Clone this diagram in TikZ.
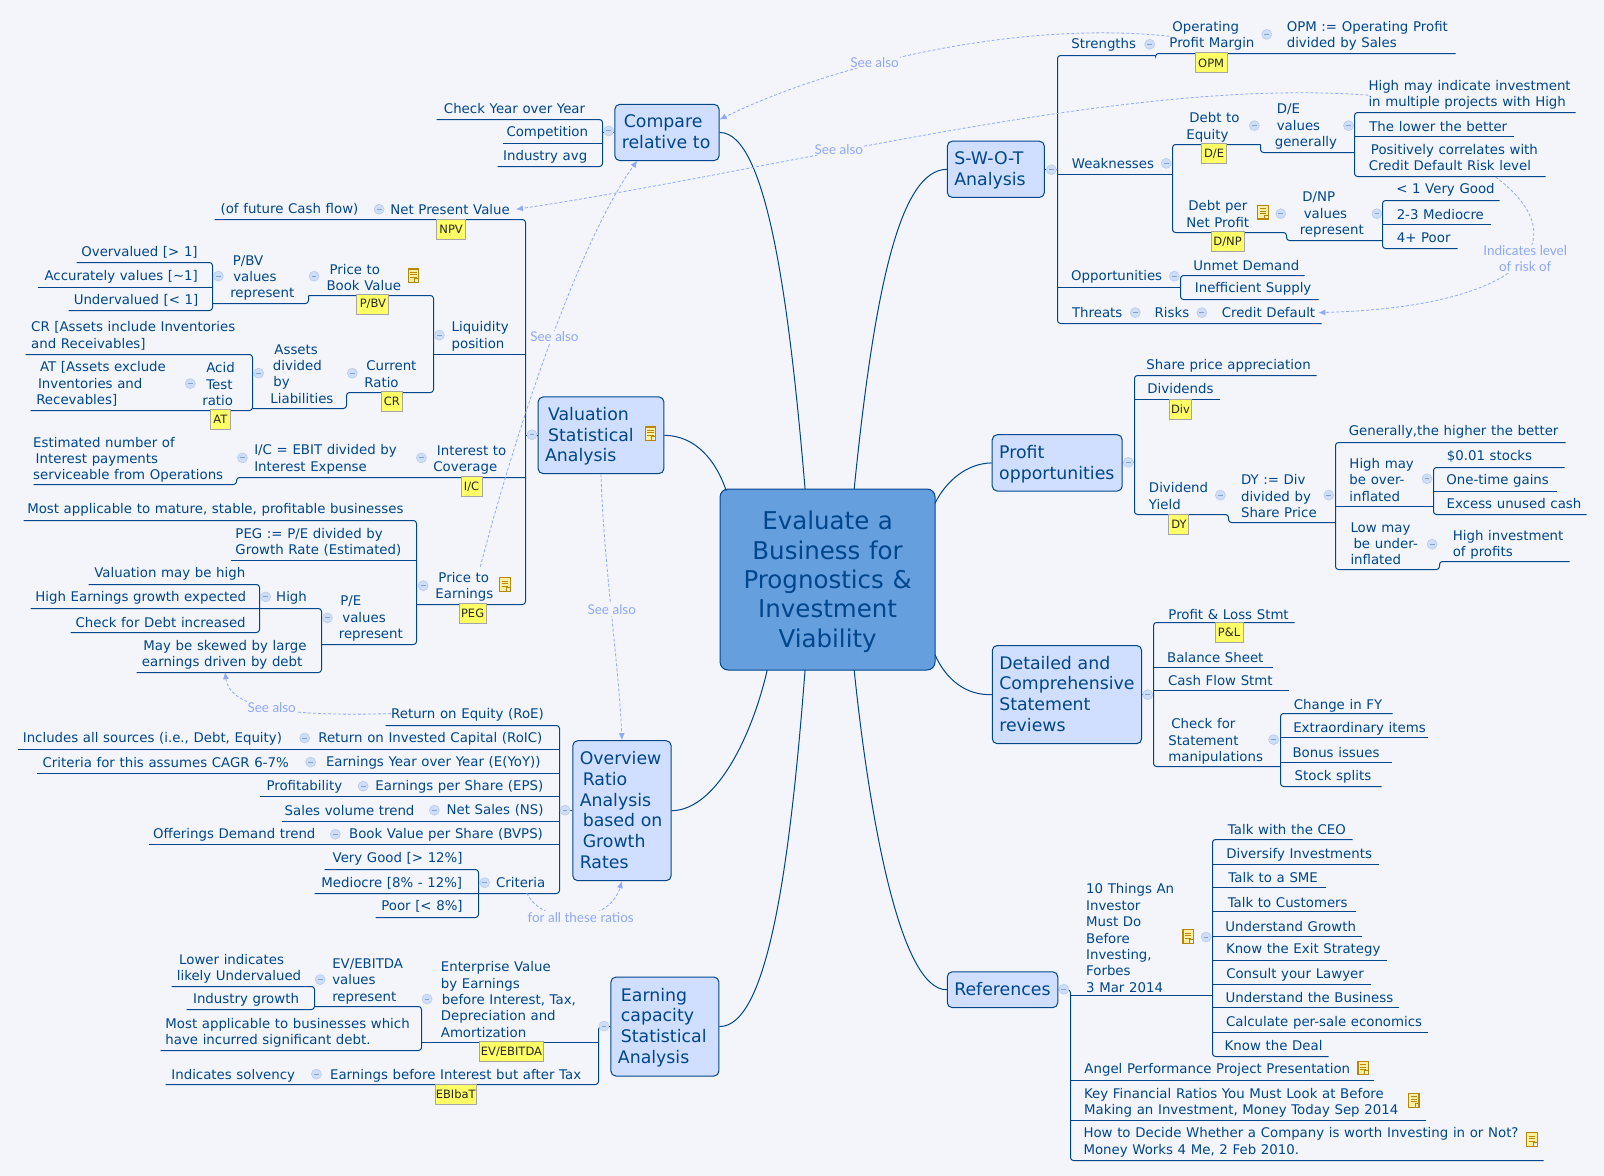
\documentclass[tikz,border=0pt]{standalone}
\usepackage{fontspec}
\setmainfont[WordSpace=1.1]{DejaVu Sans}
\newfontfamily\relfont{Lato}
\usetikzlibrary{arrows.meta}
\definecolor{pagecol}{HTML}{F3F5FB}
\definecolor{inkcol}{HTML}{00468C}
\definecolor{boxcol}{HTML}{D0DFFF}
\definecolor{maincol}{HTML}{659FDE}
\definecolor{relcol}{HTML}{8FA8F8}
\definecolor{tagcol}{HTML}{FFFF66}
\definecolor{foldcol}{HTML}{CFDEF6}
\definecolor{foldline}{HTML}{B7CCEE}
\definecolor{notecol}{HTML}{FFEFA0}
\definecolor{noteline}{HTML}{B8860B}
\tikzset{
  branch/.style={draw=inkcol,line width=1pt,rounded corners=3pt},
  stem/.style={draw=inkcol,line width=1pt},
  topic/.style={text=inkcol,inner sep=0pt,font=\fontsize{13.33}{16.4}\selectfont,
    execute at begin node={\rule{0pt}{14.5pt}},execute at end node={\rule[-4pt]{0pt}{4pt}}},
  mtopic/.style={topic,anchor=west,align=left,yshift=-2.5pt},
  bigtopic/.style={draw=inkcol,fill=boxcol,line width=1pt,rounded corners=5pt,text=inkcol,
    inner xsep=7pt,inner ysep=0pt,align=left,font=\fontsize{17.33}{20.8}\selectfont,
    execute at begin node={\rule{0pt}{18.5pt}},execute at end node={\rule[-7pt]{0pt}{7pt}}},
  yellowtag/.style={draw=black!35,fill=tagcol,line width=1pt,text=black!85,inner sep=0pt,
    minimum height=20pt,font=\fontsize{11.5}{13}\selectfont},
  foldmark/.style={circle,draw=foldline,fill=foldcol,line width=.6pt,minimum size=10pt,inner sep=0pt,
    path picture={\draw[line width=.9pt,foldline!70!inkcol] ([xshift=-2.4pt]path picture bounding box.center) -- ([xshift=2.4pt]path picture bounding box.center);}},
  noteicon/.style={rectangle,draw=noteline,fill=notecol,line width=1.2pt,minimum width=10.5pt,minimum height=13.5pt,inner sep=0pt,
    path picture={\foreach \s in {3.5,1,-1.5} \draw[line width=.9pt,noteline] ([xshift=-3.2pt,yshift=\s pt]path picture bounding box.center) -- ([xshift=3.2pt,yshift=\s pt]path picture bounding box.center);
      \fill[pagecol] ([xshift=-4pt]path picture bounding box.south east) -- ([yshift=4pt]path picture bounding box.south east) -- (path picture bounding box.south east) -- cycle;
      \draw[line width=.9pt,noteline] ([xshift=-4pt]path picture bounding box.south east) -- ([xshift=-4pt,yshift=4pt]path picture bounding box.south east) -- ([yshift=4pt]path picture bounding box.south east);}},
  rel/.style={draw=relcol,line width=.8pt,densely dashed,-{Latex[length=7pt,width=6pt]}},
  rellabel/.style={text=relcol,fill=pagecol,inner sep=1pt,align=center,font=\relfont\fontsize{13.5}{16.4}\selectfont},
}
\newcommand{\lineends}[4]{%
  \pgfmathsetmacro{\snapa}{(round(#2*1.02296-0.5)+0.5)/1.02296}%
  \pgfmathsetmacro{\snapb}{(round(#3*1.02296-0.5)+0.5)/1.02296}%
  \pgfmathsetmacro{\snapy}{(round(#4*1.02296-0.5)+0.5)/1.02296}%
  \coordinate (#1A) at (\snapa,\snapy); \coordinate (#1B) at (\snapb,\snapy);}
\begin{document}
\begin{tikzpicture}[x=1.02296pt,y=-1.02296pt]
  \path[fill=pagecol] (0,0) rectangle (1568,1149.6);

  % boxes
  \node[draw=inkcol,fill=maincol,line width=1pt,rounded corners=8pt,minimum width=215pt,minimum height=181pt,inner sep=0pt] (main) at (809,566.5) {};
  \node[align=center,text=inkcol,inner sep=0pt,yshift=-2.25pt,font=\fontsize{24.5}{29.4}\selectfont] (mainText) at (809,566.5) {Evaluate a\\Business for\\Prognostics \&\\Investment\\Viability};
  \node[bigtopic,text width=90.3pt,minimum height=56.3pt] (compare) at (652,129.5) {\hspace*{2pt}Compare\\relative to};
  \node[bigtopic,text width=83pt,minimum height=56.3pt] (swot) at (973.5,165.5) {S-W-O-T\\Analysis};
  \node[bigtopic,text width=111.8pt,minimum height=76.7pt] (valuation) at (587.5,425.5) {\hspace*{3pt}Valuation\\\hspace*{3pt}Statistical\\Analysis};
  \node[bigtopic,text width=116pt,minimum height=56.3pt] (profit) at (1033.5,452.5) {Profit\\opportunities};
  \node[bigtopic,text width=135.4pt,minimum height=98.2pt] (detailed) at (1043,679) {Detailed and\\Comprehensive\\Statement\\reviews};
  \node[bigtopic,text width=84.4pt,minimum height=140pt] (overview) at (608,792.5) {Overview\\\hspace*{3pt}Ratio\\Analysis\\\hspace*{3pt}based on\\\hspace*{3pt}Growth\\Rates};
  \node[bigtopic,text width=94pt,minimum height=99pt] (earning) at (650,1003.5) {\hspace*{3pt}Earning\\\hspace*{3pt}capacity\\\hspace*{3pt}Statistical\\Analysis};
  \node[bigtopic,text width=96.5pt,minimum height=35.8pt] (refs) at (980,967.5) {References};

  % curves to the centre
  \coordinate (mainTL) at (787,478);
  \coordinate (mainTR) at (835,478);
  \coordinate (mainBL) at (787,655);
  \coordinate (mainBR) at (835,655);
  \coordinate (mainVal) at (710,480);
  \coordinate (mainPro) at (914,492);
  \coordinate (mainDet) at (914,640);
  \coordinate (mainOve) at (750,655);
  \draw[stem] (compare.east) .. controls (750,129) and (772,300) .. (mainTL);
  \draw[stem] (swot.west) .. controls (880,166) and (855,280) .. (mainTR);
  \draw[stem] (valuation.east) .. controls (680,426) and (700,450) .. (mainVal);
  \draw[stem] (profit.west) .. controls (945,453) and (925,470) .. (mainPro);
  \draw[stem] (detailed.west) .. controls (945,680) and (925,665) .. (mainDet);
  \draw[stem] (overview.east) .. controls (700,792) and (735,720) .. (mainOve);
  \draw[stem] (earning.east) .. controls (750,1004) and (772,850) .. (mainBL);
  \draw[stem] (refs.west) .. controls (880,968) and (850,800) .. (mainBR);

  % S-W-O-T
  \lineends{str}{1034}{1130}{54}
  \lineends{opm}{1130}{1423}{52}
  \lineends{weak}{1034}{1146}{170.5}
  \lineends{dte}{1146}{1232.5}{141}
  \lineends{deval}{1232.5}{1324.4}{149}
  \lineends{high}{1324.4}{1540}{110}
  \lineends{lower}{1324.4}{1480}{133.6}
  \lineends{posi}{1324.4}{1511}{172.5}
  \lineends{dnp}{1146}{1258}{227}
  \lineends{dnpval}{1258}{1351.7}{235}
  \lineends{good}{1351.7}{1466}{195.6}
  \lineends{medi}{1351.7}{1456.6}{219.3}
  \lineends{poor}{1351.7}{1424.4}{242.7}
  \lineends{opp}{1034}{1154}{280.6}
  \lineends{unmet}{1154}{1275}{269.5}
  \lineends{ineff}{1154}{1288.5}{292.6}
  \lineends{thr}{1034}{1291.6}{316}
  \draw[branch] (strB) -- (strA) -- (thrA) -- (thrB);
  \draw[branch] (swot.east) -- (strA |- swot.east);
  \draw[branch] (strB) -- (opmA) -- (opmB);
  \draw[branch] (weakA) -- (weakB);
  \draw[branch] (dteB) -- (dteA) -- (dnpA) -- (dnpB) -- (dnpvalA) -- (dnpvalB);
  \draw[branch] (dteB) -- (devalA) -- (devalB);
  \draw[branch] (highB) -- (highA) -- (posiA) -- (posiB);
  \draw[branch] (lowerA) -- (lowerB);
  \draw[branch] (goodB) -- (goodA) -- (poorA) -- (poorB);
  \draw[branch] (mediA) -- (mediB);
  \draw[branch] (oppA) -- (oppB);
  \draw[branch] (unmetB) -- (unmetA) -- (ineffA) -- (ineffB);

  \node[topic] (strengths) at (1079,42.5) {Strengths};
  \node[mtopic] (opMargin) at (1143,33) {\hspace*{3pt}Operating\\Profit Margin};
  \node[mtopic] (opmDef) at (1257.7,33) {OPM := Operating Profit\\divided by Sales};
  \node[topic] (weakn) at (1088,160) {Weaknesses};
  \node[mtopic] (debtEq) at (1159.5,122.5) {\hspace*{3pt}Debt to\\Equity};
  \node[mtopic] (deVals) at (1246,122) {\hspace*{2pt}D/E\\\hspace*{2pt}values\\generally};
  \node[mtopic] (highInv) at (1337.6,90.6) {High may indicate investment\\in multiple projects with High};
  \node[topic] (lowerBetter) at (1406,123) {The lower the better};
  \node[mtopic] (posCorr) at (1338,153.7) {\hspace*{2pt}Positively correlates with\\Credit Default Risk level};
  \node[mtopic] (debtNp) at (1159.5,208.5) {\hspace*{2pt}Debt per\\Net Profit};
  \node[mtopic] (dnpVals) at (1270.4,208) {\hspace*{2.5pt}D/NP\\\hspace*{4pt}values\\represent};
  \node[topic] (veryGood) at (1413,184.4) {< 1 Very Good};
  \node[topic] (mediocre) at (1408,209) {2-3 Mediocre};
  \node[topic] (poorPts) at (1391.7,232) {4+ Poor};
  \node[topic] (opport) at (1091.6,269.5) {Opportunities};
  \node[topic] (unmetDem) at (1218.4,259) {Unmet Demand};
  \node[topic] (ineffSup) at (1225,281) {Inefficient Supply};
  \node[topic] (threats) at (1072.6,305.6) {Threats};
  \node[topic] (risks) at (1145.7,305.6) {Risks};
  \node[topic] (credit) at (1240,305.6) {Credit Default};
  \node[yellowtag,minimum width=32pt] (tagOpm) at (1184,61.5) {OPM};
  \node[yellowtag,minimum width=25pt] (tagDe) at (1186.8,150) {D/E};
  \node[yellowtag,minimum width=33pt] (tagDnp) at (1200,236.5) {D/NP};
  \node[noteicon] (noteDnp) at (1234.5,207.5) {};
  \node[foldmark] (fSwot) at (1027.8,165.9) {};
  \node[foldmark] (fStr) at (1123.9,43.3) {};
  \node[foldmark] (fOpm) at (1238.3,33.6) {};
  \node[foldmark] (fWeak) at (1140,159.7) {};
  \node[foldmark] (fDe) at (1226.2,122.8) {};
  \node[foldmark] (fDeV) at (1318.2,122.8) {};
  \node[foldmark] (fDnp) at (1252,208.9) {};
  \node[foldmark] (fDnpV) at (1346,208.9) {};
  \node[foldmark] (fOpp) at (1148,270) {};
  \node[foldmark] (fThr) at (1109.8,305.6) {};
  \node[foldmark] (fRisk) at (1174.9,305.6) {};

  % Profit opportunities
  \lineends{share}{1109}{1287}{367}
  \lineends{divi}{1109}{1192}{391}
  \lineends{yield}{1109}{1201}{503}
  \lineends{dyDef}{1201}{1306}{511}
  \lineends{gen}{1306}{1530}{433}
  \lineends{hiMay}{1306}{1401}{495}
  \lineends{cents}{1401}{1529}{457}
  \lineends{onet}{1401}{1522}{480}
  \lineends{exc}{1401}{1551}{503}
  \lineends{loMay}{1306}{1407}{557}
  \lineends{hiInv}{1407}{1534}{549}
  \draw[branch] (shareB) -- (shareA) -- (yieldA) -- (yieldB) -- (dyDefA) -- (dyDefB);
  \draw[branch] (profit.east) -- (shareA |- profit.east);
  \draw[branch] (diviA) -- (diviB);
  \draw[branch] (genB) -- (genA) -- (loMayA) -- (loMayB) -- (hiInvA) -- (hiInvB);
  \draw[branch] (hiMayA) -- (hiMayB);
  \draw[branch] (centsB) -- (centsA) -- (excA) -- (excB);
  \draw[branch] (onetA) -- (onetB);
  \node[topic] (sharePrice) at (1201,356) {Share price appreciation};
  \node[topic] (dividends) at (1154,380) {Dividends};
  \node[mtopic] (divYield) at (1123,484.5) {Dividend\\Yield};
  \node[mtopic] (dyText) at (1213,484.5) {DY := Div\\divided by\\Share Price};
  \node[topic] (generally) at (1421,421) {Generally,the higher the better};
  \node[mtopic] (highMay) at (1319,468.5) {High may\\be over-\\inflated};
  \node[topic] (stocks) at (1456,445) {\$0.01 stocks};
  \node[topic] (oneTime) at (1464,468) {One-time gains};
  \node[topic] (excess) at (1480,492) {Excess unused cash};
  \node[mtopic] (lowMay) at (1320,531) {Low may\\\hspace*{3pt}be under-\\inflated};
  \node[mtopic] (highInvest) at (1420,531) {High investment\\of profits};
  \node[yellowtag,minimum width=22pt] (tagDiv) at (1154,400) {Div};
  \node[yellowtag,minimum width=20pt] (tagDy) at (1152.5,512.5) {DY};
  \node[foldmark] (fPro) at (1103,452) {};
  \node[foldmark] (fYield) at (1193,484) {};
  \node[foldmark] (fDy) at (1299,484) {};
  \node[foldmark] (fHigh) at (1395,468) {};
  \node[foldmark] (fLow) at (1400,532) {};

  % Statement reviews
  \lineends{pnl}{1128}{1265}{609}
  \lineends{bal}{1128}{1244}{653}
  \lineends{cash}{1128}{1260}{675}
  \lineends{chk}{1128}{1252}{749}
  \lineends{chg}{1252}{1361}{697}
  \lineends{ext}{1252}{1395}{721}
  \lineends{bon}{1252}{1360}{745}
  \lineends{spl}{1252}{1350}{769}
  \draw[branch] (pnlB) -- (pnlA) -- (chkA) -- (chkB);
  \draw[branch] (detailed.east) -- (pnlA |- detailed.east);
  \draw[branch] (balA) -- (balB);
  \draw[branch] (cashA) -- (cashB);
  \draw[branch] (chgB) -- (chgA) -- (splA) -- (splB);
  \draw[branch] (extA) -- (extB);
  \draw[branch] (bonA) -- (bonB);
  \node[topic] (profitLoss) at (1201,600) {Profit \& Loss Stmt};
  \node[topic] (balance) at (1188,642) {Balance Sheet};
  \node[topic] (cashFlow) at (1193,665) {Cash Flow Stmt};
  \node[mtopic] (checkFor) at (1142,723) {\hspace*{3pt}Check for\\Statement\\manipulations};
  \node[topic] (changeFy) at (1308,688) {Change in FY};
  \node[topic] (extra) at (1329,711) {Extraordinary items};
  \node[topic] (bonus) at (1306,735) {Bonus issues};
  \node[topic] (splits) at (1303,758) {Stock splits};
  \node[yellowtag,minimum width=28pt] (tagPl) at (1201.5,618.5) {P\&L};
  \node[foldmark] (fDet) at (1122,679) {};
  \node[foldmark] (fChk) at (1245,723) {};

  % References
  \lineends{things}{1046.7}{1185}{973.6}
  \lineends{ceo}{1185}{1322}{821}
  \lineends{divers}{1185}{1348}{844.7}
  \lineends{sme}{1185}{1296}{868}
  \lineends{cust}{1185}{1325}{891.5}
  \lineends{growth}{1185}{1331}{915}
  \lineends{exit}{1185}{1355.5}{938.5}
  \lineends{lawyer}{1185}{1340}{962}
  \lineends{busin}{1185}{1367}{985}
  \lineends{perS}{1185}{1395.6}{1009}
  \lineends{deal}{1185}{1299}{1032.6}
  \lineends{angel}{1046.7}{1343}{1055.8}
  \lineends{ratios}{1046.7}{1393.6}{1095}
  \lineends{how}{1046.7}{1509}{1134}
  \draw[branch] (refs.east) -- (thingsA |- refs.east) -- (howA) -- (howB);
  \draw[branch] (thingsA) -- (thingsB);
  \draw[branch] (angelA) -- (angelB);
  \draw[branch] (ratiosA) -- (ratiosB);
  \draw[branch] (ceoB) -- (ceoA) -- (dealA) -- (dealB);
  \foreach \b in {divers,sme,cust,growth,exit,lawyer,busin,perS} \draw[branch] (\b A) -- (\b B);
  \node[mtopic] (tenThings) at (1061.6,916.5) {10 Things An\\Investor\\Must Do\\Before\\Investing,\\Forbes\\3 Mar 2014};
  \node[topic] (talkCeo) at (1258,811) {Talk with the CEO};
  \node[topic] (diversify) at (1270,833.6) {Diversify Investments};
  \node[topic] (talkSme) at (1244.6,858) {Talk to a SME};
  \node[topic] (talkCust) at (1258.8,881.5) {Talk to Customers};
  \node[topic] (underGrowth) at (1261.7,905) {Understand Growth};
  \node[topic] (exitStrat) at (1274,927) {Know the Exit Strategy};
  \node[topic] (consult) at (1266,951) {Consult your Lawyer};
  \node[topic] (underBus) at (1280,975) {Understand the Business};
  \node[topic] (perSale) at (1294.4,998) {Calculate per-sale economics};
  \node[topic] (knowDeal) at (1245,1022) {Know the Deal};
  \node[topic] (angelPres) at (1190,1044) {Angel Performance Project Presentation};
  \node[mtopic] (keyFin) at (1059.6,1076) {Key Financial Ratios You Must Look at Before\\Making an Investment, Money Today Sep 2014};
  \node[mtopic] (howTo) at (1059,1115) {How to Decide Whether a Company is worth Investing in or Not?\\Money Works 4 Me, 2 Feb 2010.};
  \node[noteicon] (noteTen) at (1161.6,915.6) {};
  \node[noteicon] (noteAngel) at (1332.6,1044) {};
  \node[noteicon] (noteKey) at (1382,1075.7) {};
  \node[noteicon] (noteHow) at (1497.7,1114) {};
  \node[foldmark] (fRefs) at (1040,967) {};
  \node[foldmark] (fTen) at (1179,916) {};

  % Compare
  \lineends{check}{589}{427}{116.6}
  \lineends{compt}{589}{491}{140}
  \lineends{indus}{589}{486}{163}
  \draw[branch] (checkB) -- (checkA) -- (indusA) -- (indusB);
  \draw[branch] (compare.west) -- (checkA |- compare.west);
  \draw[branch] (comptA) -- (comptB);
  \node[topic] (checkYear) at (503,106) {Check Year over Year};
  \node[topic] (competition) at (535,128) {Competition};
  \node[topic] (industry) at (533,152) {Industry avg};
  \node[foldmark] (fCmp) at (595,128) {};

  % Valuation
  \lineends{npv}{514}{209.5}{215}
  \lineends{liq}{514}{423.5}{346.6}
  \lineends{pbv}{423.5}{301.6}{289}
  \lineends{pbvals}{301.6}{207.7}{296.3}
  \lineends{over}{207.7}{74.4}{257}
  \lineends{accu}{207.7}{37}{280.6}
  \lineends{under}{207.7}{67.3}{304}
  \lineends{cur}{423.5}{338.6}{383.4}
  \lineends{adl}{338.6}{246.7}{399}
  \lineends{crl}{246.7}{24.6}{346.3}
  \lineends{atl}{246.7}{30.3}{401}
  \lineends{cov}{514}{231}{466.4}
  \lineends{est}{231}{33}{473.5}
  \lineends{pe}{514}{407.6}{590.6}
  \lineends{most}{407.6}{22.8}{508.7}
  \lineends{peg}{407.6}{225}{547.7}
  \lineends{pev}{407.6}{314.4}{630}
  \lineends{hig}{314.4}{30.3}{594.6}
  \lineends{skew}{314.4}{133}{657}
  \lineends{valm}{253.5}{87}{571}
  \lineends{chkd}{253.5}{69.4}{618}
  \draw[branch] (npvB) -- (npvA) -- (peA) -- (peB);
  \draw[branch] (valuation.west) -- (npvA |- valuation.west);
  \draw[branch] (liqA) -- (liqB);
  \draw[branch] (covA) -- (covB) -- (estA) -- (estB);
  \draw[branch] (pbvB) -- (pbvA) -- (curA) -- (curB) -- (adlA) -- (adlB);
  \draw[branch] (pbvB) -- (pbvalsA) -- (pbvalsB);
  \draw[branch] (overB) -- (overA) -- (underA) -- (underB);
  \draw[branch] (accuA) -- (accuB);
  \draw[branch] (crlB) -- (crlA) -- (atlA) -- (atlB);
  \draw[branch] (mostB) -- (mostA) -- (pevA) -- (pevB);
  \draw[branch] (pegA) -- (pegB);
  \draw[branch] (higB) -- (higA) -- (skewA) -- (skewB);
  \draw[branch] (valmB) -- (valmA) -- (chkdA) -- (chkdB);
  \node[topic] (futureCash) at (283,204) {(of future Cash flow)};
  \node[topic] (netValue) at (440,204.6) {Net Present Value};
  \node[mtopic] (liquidity) at (441.3,327) {Liquidity\\position};
  \node[mtopic] (priceBook) at (319,270.5) {\hspace*{3pt}Price to\\Book Value};
  \node[mtopic] (pbvVals) at (224.9,270) {\hspace*{2.5pt}P/BV\\\hspace*{3pt}values\\represent};
  \node[topic] (overval) at (136.4,246) {Overvalued [> 1]};
  \node[topic] (accurate) at (118.5,269.5) {Accurately values [\textasciitilde1]};
  \node[topic] (underval) at (133,293) {Undervalued [< 1]};
  \node[mtopic] (currRatio) at (356,365) {\hspace*{2pt}Current\\Ratio};
  \node[mtopic] (assets) at (264.2,365) {\hspace*{4pt}Assets\\\hspace*{2.5pt}divided\\\hspace*{3pt}by\\Liabilities};
  \node[mtopic] (crText) at (30.3,327) {CR [Assets include Inventories\\and Receivables]};
  \node[mtopic] (atText) at (35.3,374) {\hspace*{3.7pt}AT [Assets exclude\\\hspace*{1.7pt}Inventories and\\Recevables]};
  \node[mtopic] (acidTest) at (197.6,375) {\hspace*{4pt}Acid\\\hspace*{4pt}Test\\ratio};
  \node[mtopic] (interestCov) at (423.5,447.6) {\hspace*{3.5pt}Interest to\\Coverage};
  \node[mtopic] (icDef) at (248.4,447.3) {I/C = EBIT divided by\\Interest Expense};
  \node[mtopic] (estimated) at (32.3,447.6) {Estimated number of\\\hspace*{2.5pt}Interest payments\\serviceable from Operations};
  \node[mtopic] (priceEarn) at (425.5,572) {\hspace*{3pt}Price to\\Earnings};
  \node[topic] (mostMature) at (210.5,497) {Most applicable to mature, stable, profitable businesses};
  \node[mtopic] (pegDef) at (230,528.5) {PEG := P/E divided by\\Growth Rate (Estimated)};
  \node[mtopic] (peVals) at (331,603) {\hspace*{1.6pt}P/E\\\hspace*{3.6pt}values\\represent};
  \node[topic] (highPe) at (285,583.2) {High};
  \node[topic] (valHigh) at (166,559.8) {Valuation may be high};
  \node[topic] (hiGrowth) at (137.5,583.2) {High Earnings growth expected};
  \node[topic] (chkDebt) at (157,608) {Check for Debt increased};
  \node[mtopic] (skewed) at (138.5,638) {\hspace*{1.6pt}May be skewed by large\\earnings driven by debt};
  \node[yellowtag,minimum width=29pt] (tagNpv) at (441,224) {NPV};
  \node[yellowtag,minimum width=32pt] (tagPbv) at (364.5,297.5) {P/BV};
  \node[yellowtag,minimum width=21pt] (tagCr) at (383,392.5) {CR};
  \node[yellowtag,minimum width=20pt] (tagAt) at (215.5,410) {AT};
  \node[yellowtag,minimum width=21pt] (tagIc) at (461,475.5) {I/C};
  \node[yellowtag,minimum width=27pt] (tagPeg) at (462,600) {PEG};
  \node[noteicon] (noteVal) at (636,424) {};
  \node[noteicon] (notePbv) at (404.3,269.5) {};
  \node[noteicon] (notePe) at (493.7,571.5) {};
  \node[foldmark] (fVal) at (520,425) {};
  \node[foldmark] (fNpv) at (370.6,204.6) {};
  \node[foldmark] (fLiq) at (429.5,327.6) {};
  \node[foldmark] (fPbv) at (307,270) {};
  \node[foldmark] (fPbvV) at (213.4,270) {};
  \node[foldmark] (fCur) at (344.4,364.8) {};
  \node[foldmark] (fAss) at (252.8,364.8) {};
  \node[foldmark] (fAcid) at (186,375) {};
  \node[foldmark] (fCov) at (412,447.6) {};
  \node[foldmark] (fIc) at (237,447.6) {};
  \node[foldmark] (fPe) at (413.7,572.5) {};
  \node[foldmark] (fPeV) at (320,604) {};
  \node[foldmark] (fHig) at (259.7,583.5) {};

  % Overview
  \lineends{roe}{546.6}{376.4}{709}
  \lineends{roic}{546.6}{17}{732.5}
  \lineends{yoy}{546.6}{36}{755.9}
  \lineends{eps}{546.6}{254}{779}
  \lineends{nets}{546.6}{275}{802.8}
  \lineends{bvps}{546.6}{145}{826}
  \lineends{crit}{546.6}{307}{873}
  \lineends{vgood}{467.4}{317.7}{849.8}
  \lineends{vpoor}{467.4}{366.6}{896.6}
  \draw[branch] (roeB) -- (roeA) -- (critA) -- (critB);
  \draw[branch] (overview.west) -- (roeA |- overview.west);
  \foreach \b in {roic,yoy,eps,nets,bvps} \draw[branch] (\b A) -- (\b B);
  \draw[branch] (vgoodB) -- (vgoodA) -- (vpoorA) -- (vpoorB);
  \node[topic] (retEquity) at (457,697.6) {Return on Equity (RoE)};
  \node[topic] (retInvest) at (420.7,721) {Return on Invested Capital (RoIC)};
  \node[topic] (allSources) at (149,721) {Includes all sources (i.e., Debt, Equity)};
  \node[topic] (earnYoy) at (423.6,744.6) {Earnings Year over Year (E(YoY))};
  \node[topic] (cagr) at (162,745) {Criteria for this assumes CAGR 6-7\%};
  \node[topic] (earnShare) at (449,768) {Earnings per Share (EPS)};
  \node[topic] (profitab) at (297.5,768) {Profitability};
  \node[topic] (netSales) at (484,791.5) {Net Sales (NS)};
  \node[topic] (salesVol) at (341.7,792.4) {Sales volume trend};
  \node[topic] (bookShare) at (436,815) {Book Value per Share (BVPS)};
  \node[topic] (offerings) at (229,815) {Offerings Demand trend};
  \node[topic] (criteria) at (509,862.9) {Criteria};
  \node[topic] (veryG) at (388.7,838.4) {Very Good [> 12\%]};
  \node[topic] (mediocreP) at (383,862) {Mediocre [8\% - 12\%]};
  \node[topic] (poorP) at (412.5,885) {Poor [< 8\%]};
  \node[foldmark] (fOve) at (552.4,792) {};
  \node[foldmark] (fRoic) at (297.8,721.5) {};
  \node[foldmark] (fYoy) at (303.7,745) {};
  \node[foldmark] (fEps) at (355,768.5) {};
  \node[foldmark] (fNs) at (424.6,792) {};
  \node[foldmark] (fBv) at (327.8,815.5) {};
  \node[foldmark] (fCrit) at (473.8,862.9) {};

  % Earning capacity
  \lineends{ebit}{584.6}{162}{1060.6}
  \lineends{entv}{584.6}{412}{1018.8}
  \lineends{evv}{412}{307.6}{983.5}
  \lineends{mapp}{412}{156.6}{1026.7}
  \lineends{lowi}{307.6}{168}{964}
  \lineends{indg}{307.6}{182.5}{987}
  \draw[branch] (earning.west) -- (entvA |- earning.west) -- (ebitA) -- (ebitB);
  \draw[branch] (entvA) -- (entvB);
  \draw[branch] (evvB) -- (evvA) -- (mappA) -- (mappB);
  \draw[branch] (lowiB) -- (lowiA) -- (indgA) -- (indgB);
  \node[mtopic] (enterprise) at (430.8,976.5) {Enterprise Value\\by Earnings\\\hspace*{1pt}before Interest, Tax,\\Depreciation and\\Amortization};
  \node[mtopic] (evVals) at (324.6,957.3) {EV/EBITDA\\values\\represent};
  \node[mtopic] (lowerInd) at (172.7,945.5) {\hspace*{2.3pt}Lower indicates\\likely Undervalued};
  \node[topic] (indGrowth) at (240.5,976) {Industry growth};
  \node[mtopic] (mostDebt) at (161.5,1007.5) {Most applicable to businesses which\\have incurred significant debt.};
  \node[topic] (ebiAfter) at (445.4,1050) {Earnings before Interest but after Tax};
  \node[topic] (solvency) at (228,1050) {Indicates solvency};
  \node[yellowtag,minimum width=64pt] (tagEv) at (500,1028) {EV/EBITDA};
  \node[yellowtag,minimum width=41pt] (tagEbi) at (445.5,1069.5) {EBIbaT};
  \node[foldmark] (fEar) at (590.4,1003) {};
  \node[foldmark] (fEnt) at (417.5,976.6) {};
  \node[foldmark] (fEv) at (313,957.6) {};
  \node[foldmark] (fEbi) at (309.3,1050) {};

  % see also links
  \coordinate (riskOut) at (1462,173);
  \coordinate (peOut) at (469.5,554);
  \coordinate (compareIn) at (623,157);
  \coordinate (skewIn) at (220,657);
  \coordinate (critOut) at (515,873);
  \draw[rel] (opMargin.west) .. controls (1000,20) and (820,60) .. ([yshift=13pt]compare.east);
  \draw[rel] (highInv.west) .. controls (1100,75) and (770,165) .. ([xshift=6pt]netValue.east);
  \draw[rel] (riskOut) .. controls (1545,235) and (1490,300) .. ([xshift=3pt]credit.east);
  \draw[rel] (peOut) .. controls (510,400) and (570,230) .. (compareIn);
  \draw[rel] (valuation.south) .. controls (590,550) and (605,650) .. (overview.north);
  \draw[rel] (retEquity.west) .. controls (290,700) and (225,695) .. (skewIn);
  \draw[rel] (critOut) .. controls (530,905) and (595,905) .. (overview.south);
  \node[rellabel] (seeOpm) at (855,61) {See also};
  \node[rellabel] (seeHigh) at (820,146) {See also};
  \node[rellabel] (seePe) at (542,329) {See also};
  \node[rellabel] (seeVal) at (598,596) {See also};
  \node[rellabel] (seeRoe) at (265.6,691.5) {See also};
  \node[rellabel] (riskLevel) at (1491,253) {Indicates level\\of risk of};
  \node[rellabel] (allRatios) at (567.6,896.6) {for all these ratios};
\end{tikzpicture}
\end{document}
